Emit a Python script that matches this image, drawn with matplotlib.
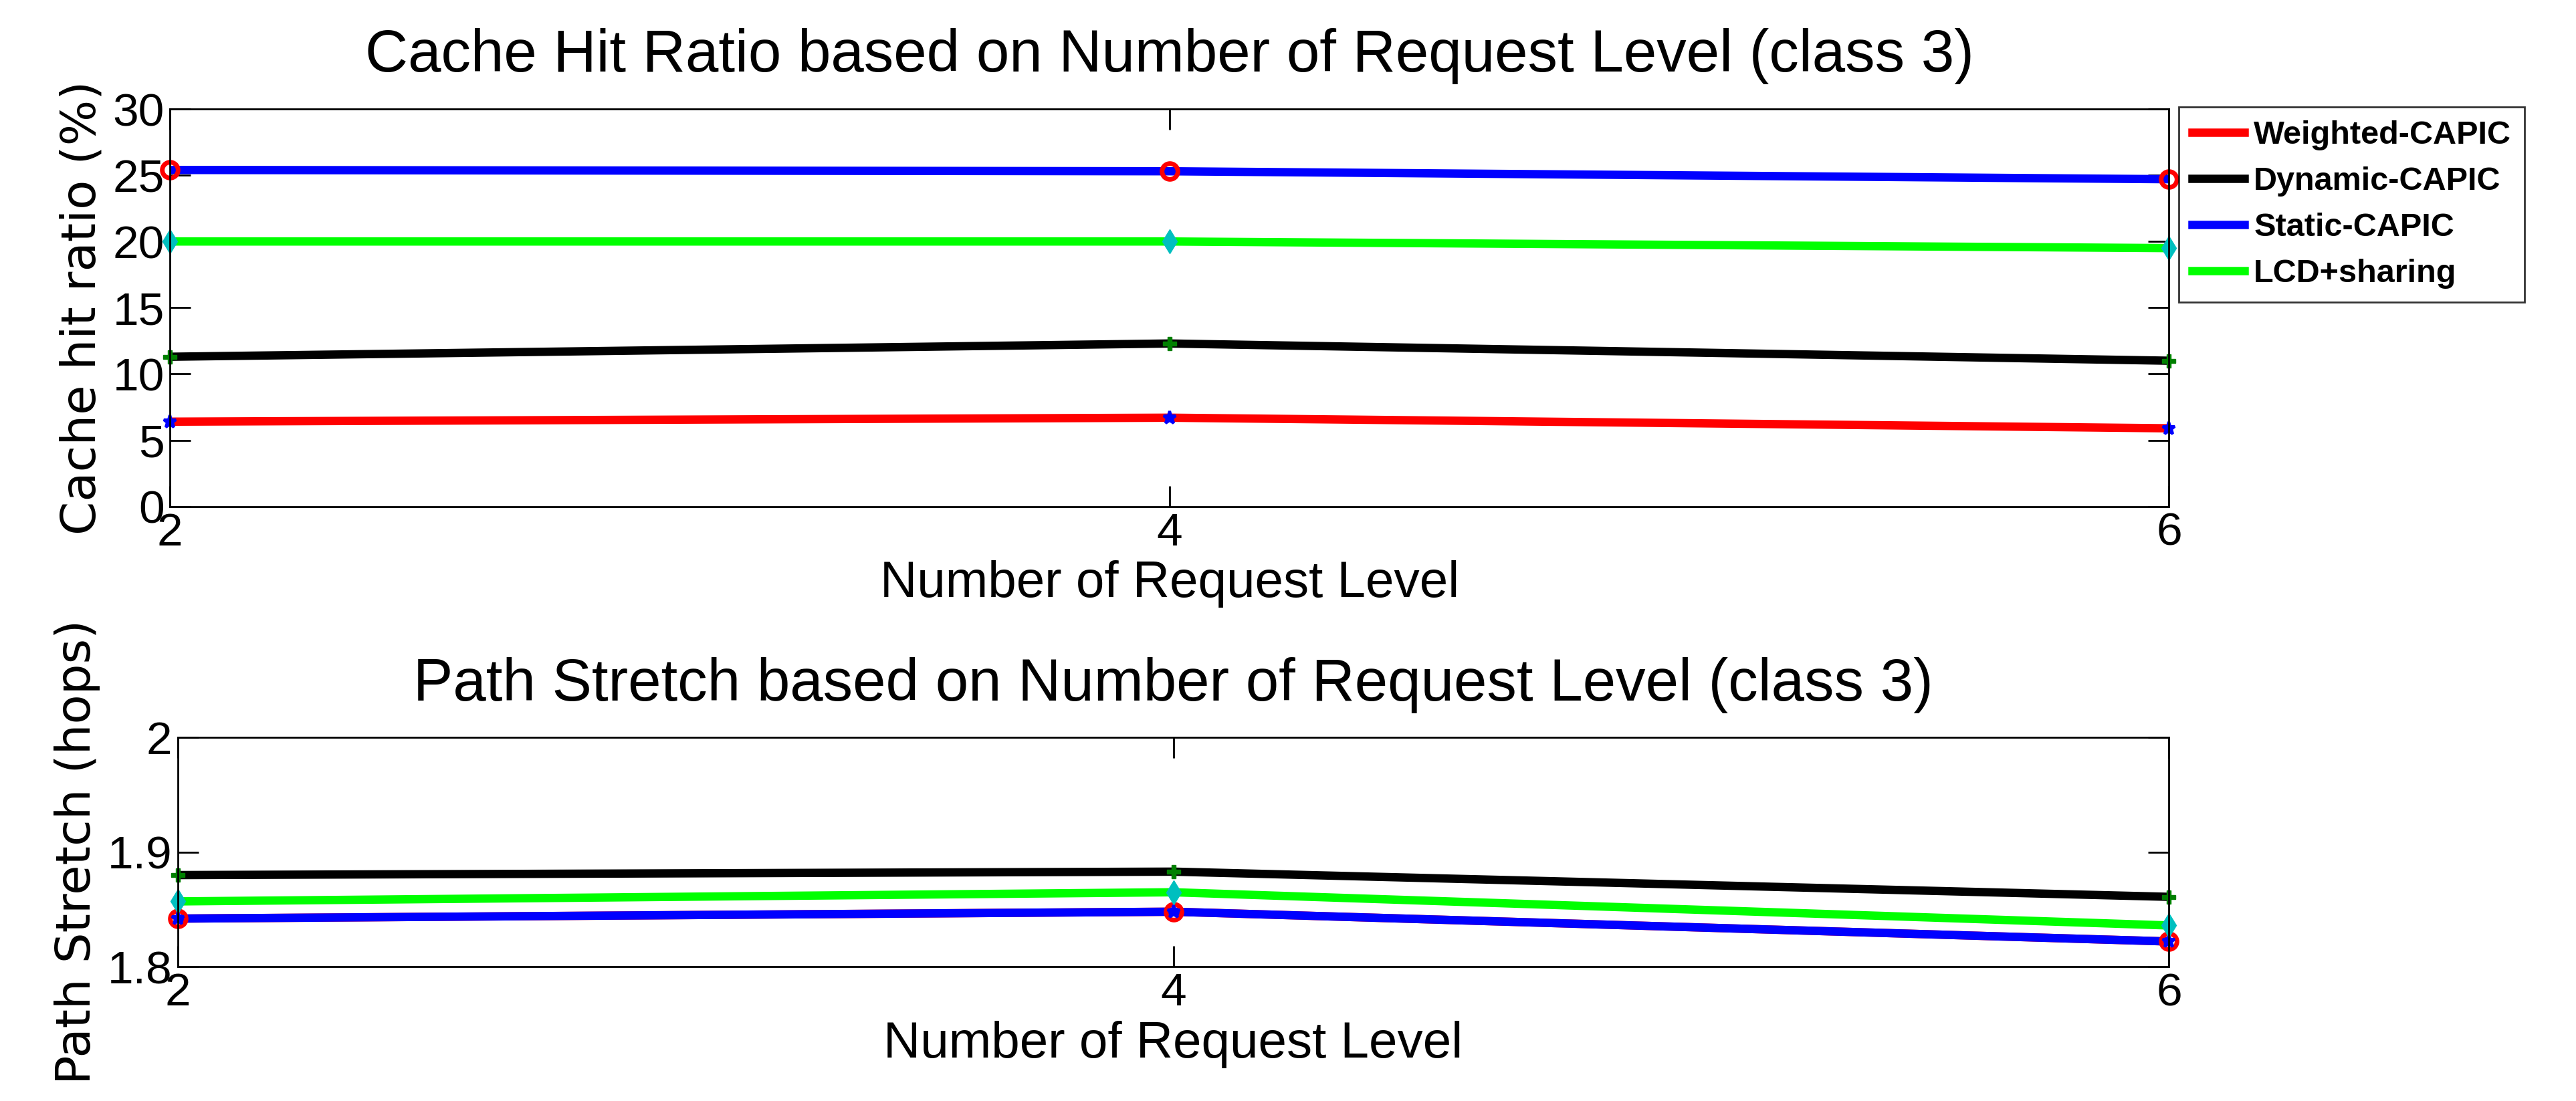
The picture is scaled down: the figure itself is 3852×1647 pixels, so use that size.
import matplotlib
matplotlib.use("Agg")
import matplotlib.pyplot as plt

x = [2, 4, 6]
labels = ["Weighted-CAPIC", "Dynamic-CAPIC", "Static-CAPIC", "LCD+sharing"]
hit_weighted = [6.4, 6.7, 5.9]
hit_dynamic = [11.3, 12.3, 11.0]
hit_static = [25.4, 25.3, 24.7]
hit_lcd = [20.0, 20.0, 19.5]
ps_weighted = [1.842, 1.848, 1.822]
ps_dynamic = [1.880, 1.883, 1.861]
ps_static = [1.842, 1.848, 1.822]
ps_lcd = [1.857, 1.865, 1.836]

line_colors = ["#ff0000", "#000000", "#0000ff", "#00ff00"]
F = "Liberation Sans"

fig = plt.figure(figsize=(38.52, 16.47), dpi=100)
ax1 = fig.add_axes([0.066, 0.540, 0.776, 0.361])
ax2 = fig.add_axes([0.069, 0.122, 0.773, 0.208])

def draw(ax, series, ylim, yticks, title, ylabel):
    for s, c, l in zip(series, line_colors, labels):
        ax.plot(x, s, color=c, lw=9, label=l)
    w, d, st, lc = series
    ax.plot(x, st, 'o', ms=17, mfc='none', mec='red', mew=5, clip_on=False)
    ax.plot(x, w, '*', ms=14, color='blue', mew=3, clip_on=False)
    ax.plot(x, d, 'P', ms=14, color='green', clip_on=False)
    ax.plot(x, lc, 'd', ms=18, color='#00bfbf', clip_on=False)
    ax.set_xlim(2, 6)
    ax.set_ylim(*ylim)
    ax.set_xticks([2, 4, 6])
    ax.set_yticks(yticks)
    ax.tick_params(labelsize=50, direction='in', length=22, width=2, top=True, right=True, pad=6)
    for lab in ax.get_xticklabels() + ax.get_yticklabels():
        lab.set_family(F)
    for sp in ax.spines.values():
        sp.set_linewidth(2)
    ax.set_title(title, fontsize=64, family=F, pad=40)
    ax.set_xlabel("Number of Request Level", fontsize=55, family=F, labelpad=6)
    ax.set_ylabel(ylabel, fontsize=52, labelpad=8)

draw(ax1, [hit_weighted, hit_dynamic, hit_static, hit_lcd], (0, 30), range(0, 31, 5),
     "Cache Hit Ratio based on Number of Request Level (class 3)", "Cache hit ratio (%)")
draw(ax2, [ps_weighted, ps_dynamic, ps_static, ps_lcd], (1.8, 2.0), [1.8, 1.9, 2.0],
     "Path Stretch based on Number of Request Level (class 3)", "Path Stretch (hops)")
ax2.set_yticklabels(["1.8", "1.9", "2"])

leg = ax1.legend(loc='upper left', bbox_to_anchor=(1.005, 1.005),
                 prop={'weight': 'bold', 'size': 35, 'family': F},
                 frameon=True, fancybox=False, edgecolor='black', handlelength=1.6,
                 handletextpad=0.3, borderpad=0.4, labelspacing=0.5, borderaxespad=0)
leg.get_frame().set_linewidth(2)
fig.savefig("out.png", dpi=100)
